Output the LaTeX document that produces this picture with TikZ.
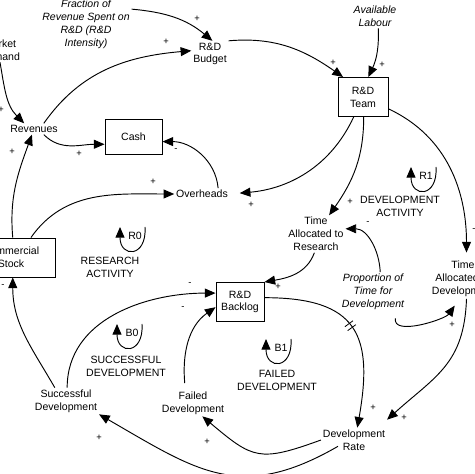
\documentclass[tikz,border=0pt]{standalone}
\usepackage{fontspec}
\setmainfont{Liberation Sans}
\usetikzlibrary{calc}
\usetikzlibrary{arrows.meta}
\tikzset{
	var/.style={align=center,inner sep=1.5pt},
	ext/.style={var,font=\fontsize{9}{11}\selectfont\itshape},
	box/.style={draw,line width=0.8pt,align=center,minimum height=11.7mm},
	lnk/.style={line width=0.8pt,-{Triangle[length=3.2mm,width=2.7mm]}},
	sign/.style={font=\fontsize{8}{9}\selectfont,inner sep=0pt}
}

\begin{document}
\begin{tikzpicture}[x=0.3mm,y=0.3mm,font=\fontsize{9}{11}\selectfont]
	\useasboundingbox (0,0) rectangle (474,474);
%	\draw [help lines,step=10] (0,0) grid (474,474);

	\node [ext] (frac) at (86,450) {Fraction of\\Revenue Spent on\\R\&D (R\&D\\Intensity)};
	\node [var] (mkt) at (0,424) {Market\\Demand};
	\node [var] (bud) at (210,420) {R\&D\\Budget};
	\node [ext] (lab) at (375,458) {Available\\Labour};
	\node [box,minimum width=15mm] (team) at (363,377) {R\&D\\Team};
	\node [var] (rev) at (34,345) {Revenues};
	\node [box,minimum width=17.1mm,minimum height=10.5mm] (cash) at (133.5,337.5) {Cash};
	\node [var] (ovh) at (202,280) {Overheads};
	\node [box,minimum width=26.4mm] (stock) at (11,216.5) {Commercial\\Stock};
	\node [var] (tres) at (316,240) {Time\\Allocated to\\Research};
	\node [var] (devact) at (400,268) {DEVELOPMENT\\ACTIVITY};
	\node [ext] (prop) at (373,182) {Proportion of\\Time for\\Development};
	\node [var] (tdev) at (463,195) {Time\\Allocated to\\Development};
	\node [box,minimum width=14.4mm] (backlog) at (240,172) {R\&D\\Backlog};
	\node [var] (resact) at (110,207) {RESEARCH\\ACTIVITY};
	\node [var] (sucact) at (126,108) {SUCCESSFUL\\DEVELOPMENT};
	\node [var] (sdev) at (66,73) {Successful\\Development};
	\node [var] (fdev) at (193,71) {Failed\\Development};
	\node [var] (failact) at (277,94) {FAILED\\DEVELOPMENT};
	\node [var] (rate) at (354,34) {Development\\Rate};

	% loop markers
	\foreach \lx/\ly/\lname in {120/247/R0,411/307/R1,117/150/B0,266/135/B1}{
		\draw [lnk] (\lx+25,\ly) .. controls (\lx+27,\ly-31) and (\lx,\ly-31) .. (\lx,\ly);
		\node [var] (\lname) at (\lx+15,\ly-9) {\lname};
	}

	% links
	\draw [lnk] (frac.18) to[out=-5,in=140] (bud.80);
	\draw [lnk] (rev.30) to[out=55,in=185] (bud.170);
	\draw [lnk] (bud.north east) to[out=5,in=145] (team.135);
	\draw [lnk] (lab.-75) to[out=-88,in=65] (team.75);
	\draw [lnk] (mkt.south) to[out=-80,in=135] (rev.150);
	\draw [lnk] (rev.-30) to[out=-45,in=180] (cash.195);
	\draw [lnk] (stock.85) to[out=95,in=-110] (rev.-110);
	\draw [lnk] (ovh.20) to[out=95,in=0] (cash.-10);
	\draw [lnk] (stock.45) to[out=55,in=180] (ovh.west);
	\draw [lnk,shorten >=3mm] (team.-115) to[out=-115,in=5] (ovh.east);
	\draw [lnk] (team.-88) to[out=-90,in=55] (tres.55);
	\draw [lnk,shorten >=2mm] (team.-25) to[out=-25,in=90] (tdev.80);
	\draw [lnk] (prop.70) to[out=92,in=0] (tres.10);
	\draw [lnk,shorten <=2mm,shorten >=2.5mm] (prop.-40) to[out=-100,in=-125] (tdev.-100);
	\draw [lnk] (tdev.-80) to[out=-92,in=42,looseness=1.15] ($(rate.north east)+(0,8)$);
	\draw [lnk] (backlog.10) to[out=0,in=80,looseness=1.5]
		node [sloped,pos=0.48,inner sep=0] (delay) {\rule{0.7pt}{3mm}\hspace{1.2mm}\rule{0.7pt}{3mm}} (rate.75);
	\draw [lnk] (rate.west) to[out=200,in=-40,looseness=1.4] (fdev.-55);
	\draw [lnk] ($(rate.south)+(-16,6)$) to[out=-150,in=-30,looseness=1.2] (sdev.south east);
	\draw [lnk] (sdev.130) to[out=120,in=-90] (stock.-85);
	\draw [lnk] (sdev.85) to[out=90,in=180] (backlog.160);
	\draw [lnk,shorten <=2mm] (fdev.120) to[out=95,in=215] (backlog.-168);
	\draw [lnk] (tres.-95) to[out=-110,in=10] (backlog.north east);

	% polarities
	\foreach \sx/\sy/\s [count=\i] in {197/455/+,166/432/+,333/411/+,382/409/+,1/364/+,79/320/+,
		12/322/+,176/324/-,153/292/+,251/269/+,350/272/+,474/244/-,368/251/-,452/149/+,
		404/56/+,373/66/+,207/32/+,99/36/+,3/188/-,190/190/-,183/166/-,278/187/+}
		\node [sign] (s\i) at (\sx,\sy) {\s};
\end{tikzpicture}
\end{document}
